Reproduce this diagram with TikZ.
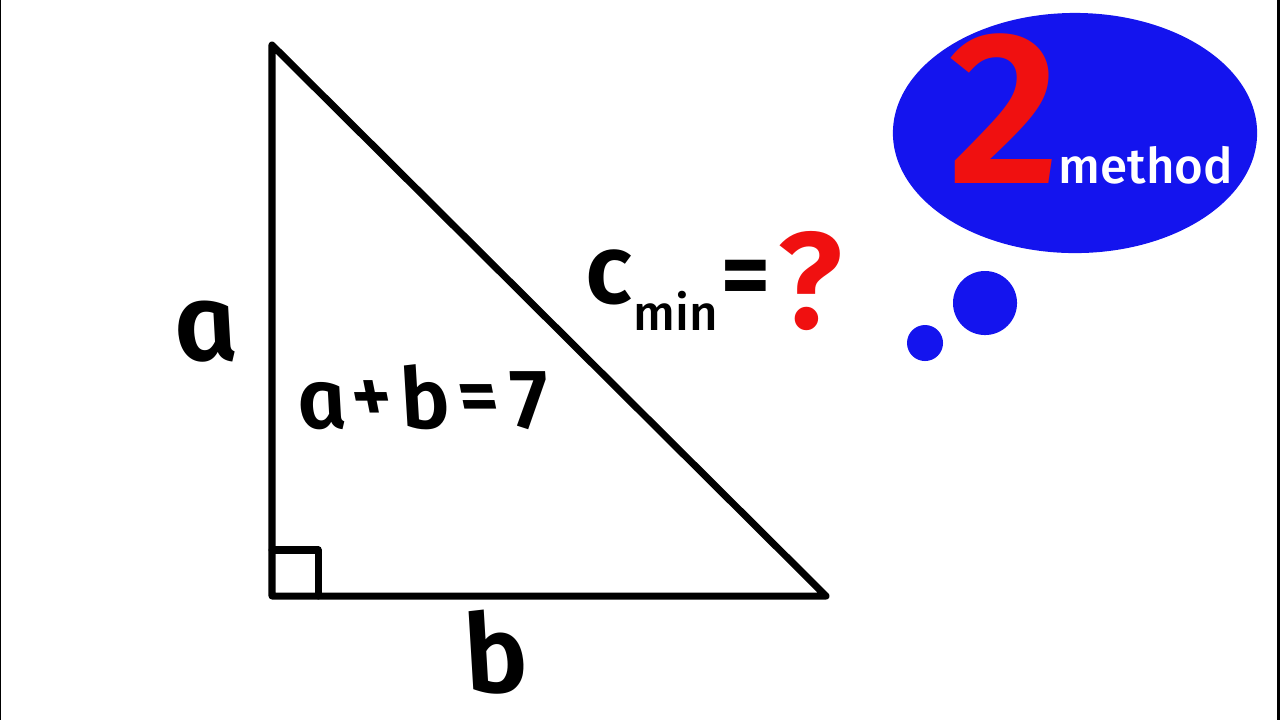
\documentclass[tikz,border=0pt]{standalone}
\usepackage{fontspec}
\setmainfont{Fira Sans}
\IfFontExistsTF{Fira Sans SemiBold}
    {\newfontfamily\heavyfont{Fira Sans SemiBold}}
    {\newfontfamily\heavyfont{Fira Sans}[UprightFont=*-Bold, ItalicFont=*-BoldItalic]}
\IfFontExistsTF{Fira Sans Medium}
    {\newfontfamily\midfont{Fira Sans Medium}}
    {\newfontfamily\midfont{Fira Sans}}
\newcommand\smallop[1]{\raisebox{1.5pt}{\fontsize{22}{22}\selectfont\upshape #1}}
\usetikzlibrary{positioning, shapes.geometric}
\definecolor{bubbleblue}{RGB}{20,20,238}
\definecolor{markred}{RGB}{240,16,16}

\begin{document}
\begin{tikzpicture}[x=0.01cm, y=-0.01cm, line join=round, line cap=round,
    leg/.style={line width=2pt},
    upright italic/.style={xslant=-0.2, transform shape},
    sidelabel/.style={font=\fontsize{31}{31}\selectfont\heavyfont\itshape, upright italic, inner sep=0pt, anchor=base},
    sumlabel/.style={font=\fontsize{24}{24}\selectfont\heavyfont\itshape, upright italic, inner sep=0pt, anchor=base west},
    clabel/.style={font=\fontsize{28}{28}\selectfont\heavyfont, inner sep=0pt, anchor=base west},
    sublabel/.style={font=\fontsize{14}{14}\selectfont\midfont, inner sep=0pt, anchor=base west},
    bubble/.style={ellipse, fill=bubbleblue, inner sep=0pt},
    puff/.style={circle, fill=bubbleblue, inner sep=0pt}]
    \useasboundingbox (0,0) rectangle (1280,720);
    \fill (0,0) rectangle (1.5,720);
    \fill (1277,0) rectangle (1280,720);

    \coordinate (top) at (272,45);
    \coordinate (corner) at (272,596);
    \coordinate (tip) at (826,596);
    \draw[leg] (top) -- (corner) -- (tip) -- cycle;
    \draw[leg] ([yshift=0.46cm]corner) -| ([xshift=0.46cm]corner);

    \node[sidelabel] (sidea) at (212,360) {a};
    \node[sidelabel] (sideb) at (502,692) {b};
    \node[sumlabel] (sum) at (302,428) {a\kern2pt\smallop{+}\kern2pt b\kern3pt\smallop{=}\kern3pt 7};

    \node[clabel] (c) at (585,303) {c};
    \node[sublabel] (min) at (633,330) {min};
    \node[clabel] (eq) at (720,308) {=};
    \node[clabel, font=\fontsize{39}{39}\selectfont\heavyfont, text=markred] (ask) at (777,328) {?};

    \node[bubble, minimum width=3.64cm, minimum height=2.40cm] (cloud) at (1075,133) {};
    \node[puff, minimum size=0.64cm] (bigdot) at (985,303) {};
    \node[puff, minimum size=0.36cm] (smalldot) at (925,343) {};
    \node[clabel, font=\fontsize{62}{62}\selectfont\heavyfont, text=markred] (two) at (948,183) {2};
    \node[sublabel, text=white] (method) at (1058,183) {method};
\end{tikzpicture}
\end{document}
